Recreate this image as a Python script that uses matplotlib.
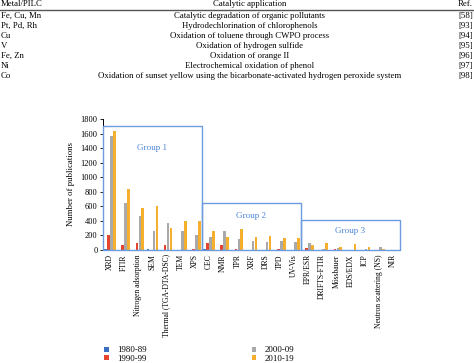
import matplotlib
matplotlib.use("Agg")
import matplotlib.pyplot as plt
import numpy as np
from matplotlib.patches import Rectangle
from matplotlib.lines import Line2D

W, H = 474, 363
DPI = 100

# ---- table data ----
metals = ["Fe, Cu, Mn", "Pt, Pd, Rh", "Cu", "V", "Fe, Zn", "Ni", "Co"]
applications = [
    "Catalytic degradation of organic pollutants",
    "Hydrodechlorination of chlorophenols",
    "Oxidation of toluene through CWPO process",
    "Oxidation of hydrogen sulfide",
    "Oxidation of orange II",
    "Electrochemical oxidation of phenol",
    "Oxidation of sunset yellow using the bicarbonate-activated hydrogen peroxide system",
]
refs = ["[58]", "[93]", "[94]", "[95]", "[96]", "[97]", "[98]"]
headers = ["Metal/PILC", "Catalytic application", "Ref."]

# ---- chart data ----
techniques = ["XRD", "FTIR", "Nitrogen adsorption", "SEM", "Thermal (TGA-DTA-DSC)",
              "TEM", "XPS", "CEC", "NMR", "TPR", "XRF", "DRS", "TPD", "UV-Vis",
              "EPR/ESR", "DRIFTS-FTIR", "Mössbauer", "EDS/EDX", "ICP",
              "Neutron scattering (NS)", "NIR"]
decades = ["1980-89", "1990-99", "2000-09", "2010-19"]
v1980 = [10, 5, 5, 10, 5, 5, 5, 10, 5, 5, 0, 0, 5, 0, 5, 0, 5, 0, 0, 0, 0]
v1990 = [200, 70, 90, 5, 65, 5, 10, 90, 70, 15, 5, 5, 15, 5, 25, 5, 20, 0, 5, 0, 0]
v2000 = [1570, 650, 470, 260, 370, 260, 210, 185, 260, 150, 125, 115, 130, 115, 90, 10, 30, 5, 20, 35, 5]
v2010 = [1630, 840, 580, 610, 300, 400, 400, 260, 180, 285, 180, 190, 160, 160, 70, 90, 45, 80, 45, 15, 0]
colors = ["#3a6fc4", "#e4452f", "#a9a9a9", "#f6ae2d"]

groups = ["Group 1", "Group 2", "Group 3"]
group_start = [0, 7, 14]
group_end = [6, 13, 20]
group_top = [1700, 650, 410]
group_label_y = [1400, 470, 260]

fig = plt.figure(figsize=(W / DPI, H / DPI), dpi=DPI)
serif = ["Liberation Serif", "DejaVu Serif"]

# ---- table ----
fs_t = 6.3
row_y0 = 16
row_dy = 10
fig.text(1 / W, 1 - 4 / H, headers[0], family=serif, fontsize=fs_t, va="center", ha="left")
fig.text(250 / W, 1 - 4 / H, headers[1], family=serif, fontsize=fs_t, va="center", ha="center")
fig.text(473 / W, 1 - 4 / H, headers[2], family=serif, fontsize=fs_t, va="center", ha="right")
fig.add_artist(Line2D([0, 1], [1 - 9.5 / H, 1 - 9.5 / H], color="#555555", lw=1.0,
                      transform=fig.transFigure))
for i, (m, a, r) in enumerate(zip(metals, applications, refs)):
    y = 1 - (row_y0 + i * row_dy) / H
    fig.text(1 / W, y, m, family=serif, fontsize=fs_t, va="center", ha="left")
    fig.text(250 / W, y, a, family=serif, fontsize=fs_t, va="center", ha="center")
    fig.text(473 / W, y, r, family=serif, fontsize=fs_t, va="center", ha="right")

# ---- chart ----
ax_l, ax_r, ax_t, ax_b = 103, 400, 119, 250
ax = fig.add_axes([ax_l / W, 1 - ax_b / H, (ax_r - ax_l) / W, (ax_b - ax_t) / H])
x = np.arange(len(techniques))
bw = 0.21
series = [v1980, v1990, v2000, v2010]
handles = []
for k, (vals, c, lab) in enumerate(zip(series, colors, decades)):
    b = ax.bar(x + (k - 1.5) * bw, vals, width=bw * 0.9, color=c, label=lab, zorder=2)
    handles.append(b)

ax.set_xlim(-0.5, len(techniques) - 0.5)
ax.set_ylim(0, 1800)
ax.set_yticks(np.arange(0, 1801, 200))
ax.set_xticks(x)
ax.set_xticklabels(techniques, rotation=90, family=serif, fontsize=5.5)
for t in ax.get_yticklabels():
    t.set_family(serif)
    t.set_fontsize(6.0)
ax.tick_params(axis="y", length=2, width=0.6, pad=2)
ax.tick_params(axis="x", length=0, pad=3)
for s in ["top", "right"]:
    ax.spines[s].set_visible(False)
ax.spines["left"].set_linewidth(0.7)
ax.spines["bottom"].set_linewidth(0.7)
ax.set_ylabel("Number of publications", family=serif, fontsize=6.3, labelpad=4)

box_c = "#6d9be0"
for g, s, e, top, ly in zip(groups, group_start, group_end, group_top, group_label_y):
    ax.add_patch(Rectangle((s - 0.5 + 0.02, 0), e - s + 1 - 0.04, top, fill=False,
                           edgecolor=box_c, lw=1.0, zorder=3, clip_on=False))
    ax.text((s + e) / 2, ly, g, color="#4a86d8", family=serif, fontsize=6.6,
            ha="center", va="center")

leg = fig.legend(handles=handles, labels=decades, ncol=2, loc="upper left",
                 bbox_to_anchor=(98 / W, 1 - 340 / H), frameon=False,
                 prop={"family": serif, "size": 6.3}, handlelength=0.5, handleheight=0.5,
                 handletextpad=1.0, columnspacing=12.0, labelspacing=0.1,
                 borderpad=0.2)

fig.savefig("out.png", dpi=DPI)
